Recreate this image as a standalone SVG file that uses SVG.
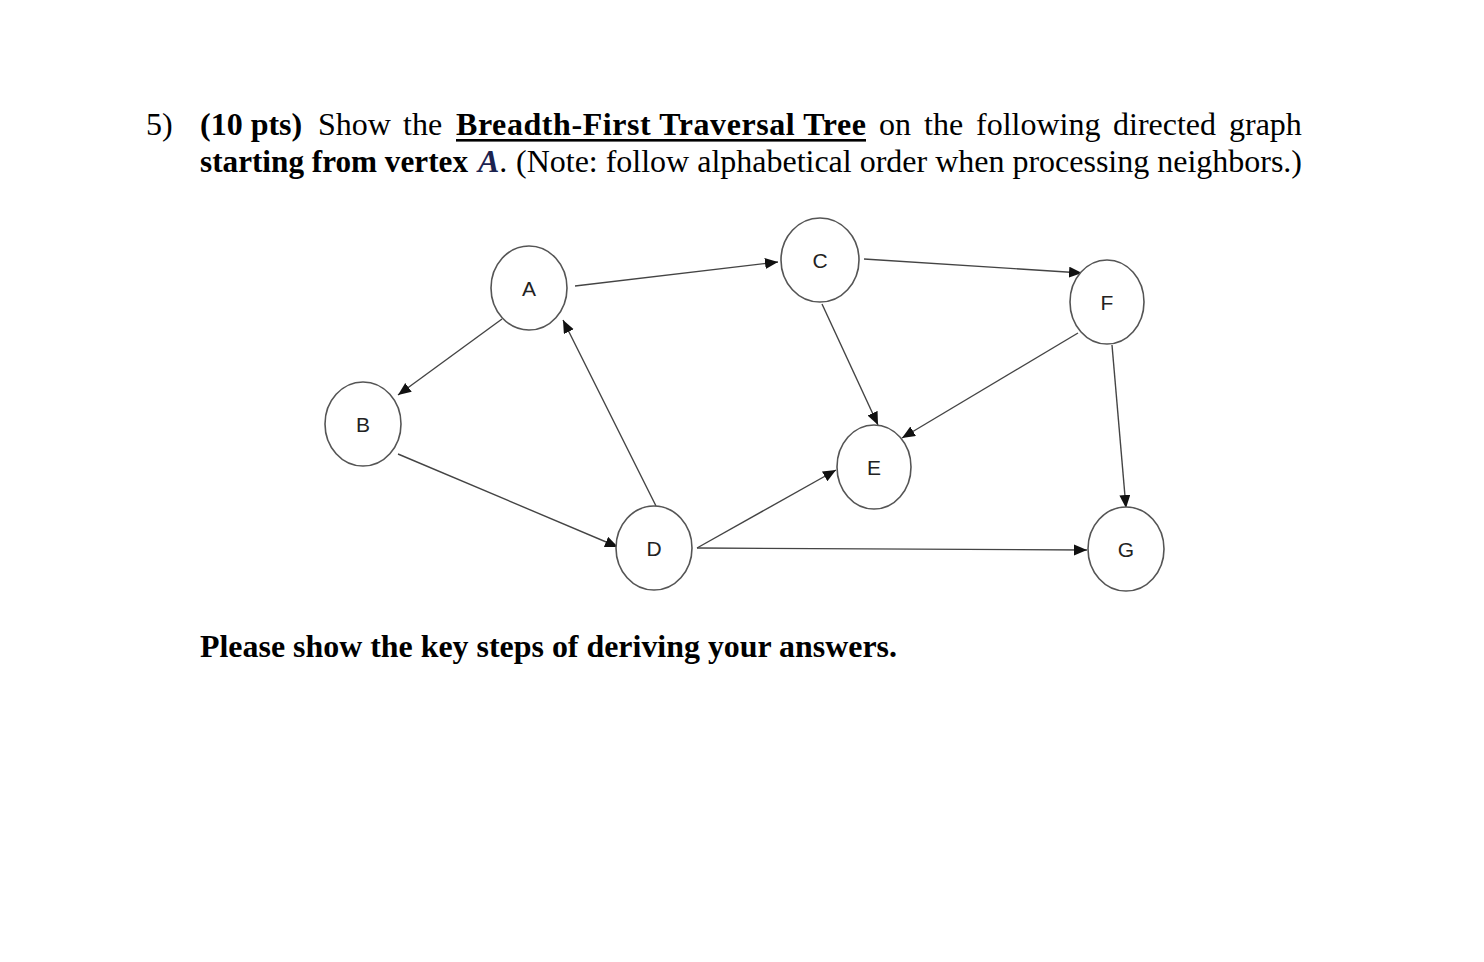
<svg xmlns="http://www.w3.org/2000/svg" width="1484" height="962" viewBox="0 0 1484 962">
<style>
.q{font-family:"Liberation Serif","Times New Roman",serif;font-size:32px;fill:#000}
.b{font-weight:bold}
.node ellipse{fill:#fff;stroke:#555;stroke-width:1.6}
.node text{font-family:"Liberation Sans",Arial,sans-serif;font-size:21px;fill:#222;text-anchor:middle;dominant-baseline:central}
.edges line{stroke:#444;stroke-width:1.4;marker-end:url(#ah)}
</style>
<defs>
<marker id="ah" markerUnits="userSpaceOnUse" markerWidth="14" markerHeight="12" refX="13" refY="5.5" orient="auto">
<path d="M0,0 L13,5.5 L0,11 z" fill="#111"/>
</marker>
</defs>
<rect width="1484" height="962" fill="#fff"/>
<g id="question">
<text class="q" y="135"><tspan x="146">5)</tspan><tspan x="200" class="b">(10 pts)</tspan><tspan x="318">Show</tspan><tspan x="403">the</tspan><tspan x="456" class="b" textLength="410" lengthAdjust="spacing">Breadth-First Traversal Tree</tspan><tspan x="879">on</tspan><tspan x="924">the</tspan><tspan x="976">following</tspan><tspan x="1113">directed</tspan><tspan x="1229">graph</tspan></text>
<rect x="456" y="139" width="410" height="2.6" fill="#000"/>
<text class="q" y="172"><tspan x="200" class="b" textLength="268" lengthAdjust="spacingAndGlyphs">starting from vertex</tspan><tspan x="478" class="b" font-style="italic" fill="#1c2350">A</tspan><tspan>.</tspan><tspan x="516" textLength="786" lengthAdjust="spacing">(Note: follow alphabetical order when processing neighbors.)</tspan></text>
<text class="q b" x="200" y="657" textLength="697" lengthAdjust="spacingAndGlyphs">Please show the key steps of deriving your answers.</text>
</g>
<g class="edges" id="edges">
<line x1="575" y1="286" x2="778" y2="262"/>
<line x1="864" y1="259" x2="1082" y2="273"/>
<line x1="502" y1="319" x2="398" y2="395"/>
<line x1="656" y1="506" x2="563" y2="320"/>
<line x1="398" y1="454" x2="618" y2="547"/>
<line x1="822" y1="304" x2="878" y2="425"/>
<line x1="1078" y1="333" x2="902" y2="438"/>
<line x1="1112" y1="345" x2="1126" y2="508"/>
<line x1="697" y1="548" x2="836" y2="470"/>
<line x1="697" y1="548" x2="1087" y2="550"/>
</g>
<g id="A" class="node"><ellipse cx="529" cy="288" rx="38" ry="42"/><text x="529" y="288">A</text></g>
<g id="B" class="node"><ellipse cx="363" cy="424" rx="38" ry="42"/><text x="363" y="424">B</text></g>
<g id="C" class="node"><ellipse cx="820" cy="260" rx="39" ry="42"/><text x="820" y="260">C</text></g>
<g id="F" class="node"><ellipse cx="1107" cy="302" rx="37" ry="42"/><text x="1107" y="302">F</text></g>
<g id="E" class="node"><ellipse cx="874" cy="467" rx="37" ry="42"/><text x="874" y="467">E</text></g>
<g id="D" class="node"><ellipse cx="654" cy="548" rx="38" ry="42"/><text x="654" y="548">D</text></g>
<g id="G" class="node"><ellipse cx="1126" cy="549" rx="38" ry="42"/><text x="1126" y="549">G</text></g>
</svg>
